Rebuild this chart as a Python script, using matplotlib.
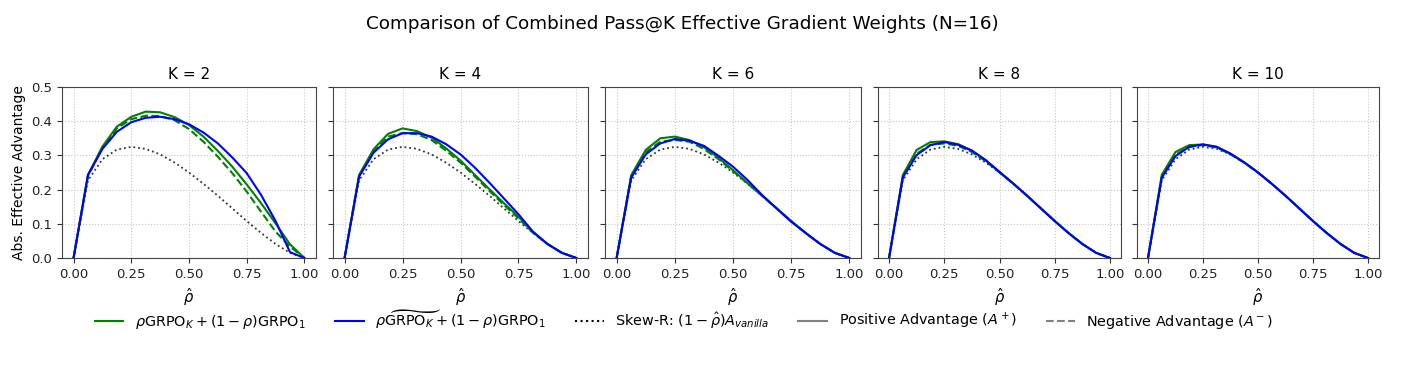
import numpy as np
import matplotlib
matplotlib.use("Agg")
import matplotlib.pyplot as plt
from matplotlib.lines import Line2D

# rho-hat grid (N=16)
rho = [i / 16 for i in range(17)]
k_values = [2, 4, 6, 8, 10]

# Skew-R baseline (same in every panel)
skew_r = [0.0, 0.227, 0.289, 0.317, 0.325, 0.319, 0.303, 0.279, 0.250,
          0.217, 0.182, 0.145, 0.108, 0.073, 0.041, 0.015, 0.0]

# combined GRPO_K, positive advantage (green solid)
green_pos = {
    2: [0.0, 0.243, 0.326, 0.384, 0.413, 0.428, 0.426, 0.412, 0.389,
        0.355, 0.313, 0.267, 0.215, 0.160, 0.101, 0.040, 0.0],
    4: [0.0, 0.243, 0.318, 0.363, 0.379, 0.371, 0.352, 0.321, 0.285,
        0.243, 0.201, 0.160, 0.121, 0.076, 0.041, 0.015, 0.0],
    6: [0.0, 0.242, 0.316, 0.350, 0.355, 0.345, 0.324, 0.293, 0.257,
        0.219, 0.182, 0.145, 0.108, 0.073, 0.041, 0.015, 0.0],
    8: [0.0, 0.243, 0.316, 0.339, 0.341, 0.333, 0.314, 0.286, 0.251,
        0.217, 0.182, 0.145, 0.108, 0.073, 0.041, 0.015, 0.0],
    10: [0.0, 0.243, 0.310, 0.330, 0.332, 0.325, 0.305, 0.280, 0.250,
         0.217, 0.182, 0.145, 0.108, 0.073, 0.041, 0.015, 0.0],
}

# combined GRPO_K, negative advantage (green dashed)
green_neg = {
    2: [0.0, 0.240, 0.321, 0.379, 0.406, 0.416, 0.415, 0.403, 0.377,
        0.340, 0.296, 0.248, 0.194, 0.135, 0.077, 0.033, 0.0],
    4: [0.0, 0.240, 0.311, 0.355, 0.365, 0.362, 0.345, 0.314, 0.279,
        0.238, 0.196, 0.155, 0.116, 0.074, 0.041, 0.015, 0.0],
    6: [0.0, 0.238, 0.309, 0.340, 0.345, 0.340, 0.319, 0.289, 0.254,
        0.218, 0.182, 0.145, 0.108, 0.073, 0.041, 0.015, 0.0],
    8: [0.0, 0.236, 0.305, 0.331, 0.335, 0.328, 0.310, 0.283, 0.250,
        0.217, 0.182, 0.145, 0.108, 0.073, 0.041, 0.015, 0.0],
    10: [0.0, 0.236, 0.302, 0.325, 0.330, 0.323, 0.303, 0.279, 0.250,
         0.217, 0.182, 0.145, 0.108, 0.073, 0.041, 0.015, 0.0],
}

# combined tilde GRPO_K (blue, pos and neg coincide)
blue_pos = {
    2: [0.0, 0.243, 0.319, 0.369, 0.397, 0.410, 0.413, 0.406, 0.391,
        0.367, 0.335, 0.294, 0.248, 0.184, 0.108, 0.017, 0.0],
    4: [0.0, 0.238, 0.308, 0.347, 0.365, 0.365, 0.355, 0.333, 0.303,
        0.264, 0.220, 0.174, 0.128, 0.077, 0.041, 0.015, 0.0],
    6: [0.0, 0.235, 0.303, 0.335, 0.348, 0.343, 0.328, 0.299, 0.267,
        0.228, 0.184, 0.145, 0.106, 0.073, 0.041, 0.015, 0.0],
    8: [0.0, 0.236, 0.301, 0.330, 0.339, 0.331, 0.314, 0.286, 0.252,
        0.218, 0.182, 0.145, 0.108, 0.073, 0.041, 0.015, 0.0],
    10: [0.0, 0.235, 0.298, 0.325, 0.332, 0.325, 0.305, 0.279, 0.250,
         0.217, 0.182, 0.145, 0.108, 0.073, 0.041, 0.015, 0.0],
}

W, H = 1422, 369
fig, axes = plt.subplots(1, 5, figsize=(W / 100, H / 100), dpi=100, sharey=True)

# panel edges in pixels (left, right), top/bottom shared
panel_px = [(62, 316), (333, 588), (605, 861), (878, 1121), (1137, 1379)]
top_px, bottom_px = 87, 258

for ax, (l, r) in zip(axes, panel_px):
    ax.set_position([l / W, 1 - bottom_px / H, (r - l) / W, (bottom_px - top_px) / H])

for ax, k in zip(axes, k_values):
    ax.plot(rho, skew_r, color='black', linestyle=':', linewidth=1.3, alpha=0.8)
    ax.plot(rho, green_neg[k], color='green', linestyle='--', linewidth=1.5)
    ax.plot(rho, green_pos[k], color='green', linestyle='-', linewidth=1.5)
    ax.plot(rho, blue_pos[k], color='blue', linestyle='-', linewidth=1.5)
    ax.set_title(f"K = {k}", fontsize=11)
    ax.set_xlabel(r'$\hat{\rho}$', fontsize=10.5)
    ax.set_ylim(0, 0.5)
    ax.set_xticks([0, 0.25, 0.5, 0.75, 1.0])
    ax.set_xticklabels(["0.00", "0.25", "0.50", "0.75", "1.00"])
    ax.tick_params(labelsize=9.5, colors='#333333', labelcolor='#222222')
    ax.grid(True, linestyle=':', color='#c8c8c8', linewidth=0.8)
    for s in ax.spines.values():
        s.set_color('#444444')

axes[0].set_ylabel("Abs. Effective Advantage", fontsize=10)
axes[0].set_yticks([0, 0.1, 0.2, 0.3, 0.4, 0.5])

fig.suptitle("Comparison of Combined Pass@K Effective Gradient Weights (N=16)",
             fontsize=13.2, x=0.48, y=0.96)

handles = [
    Line2D([], [], color='green', linewidth=1.5),
    Line2D([], [], color='blue', linewidth=1.5),
    Line2D([], [], color='black', linestyle=':', linewidth=1.5),
    Line2D([], [], color='gray', linewidth=1.5),
    Line2D([], [], color='gray', linestyle='--', linewidth=1.5),
]
labels = [
    r'$\rho\mathrm{GRPO}_K + (1-\rho)\mathrm{GRPO}_1$',
    r'$\rho\widetilde{\mathrm{GRPO}_K} + (1-\rho)\mathrm{GRPO}_1$',
    r'Skew-R: $(1-\hat{\rho})A_{vanilla}$',
    r'Positive Advantage ($A^+$)',
    r'Negative Advantage ($A^-$)',
]
fig.legend(handles, labels, loc='center', bbox_to_anchor=(0.481, 0.133),
           ncol=5, frameon=False, fontsize=10.4, columnspacing=2.0)

fig.savefig("out.png", dpi=100)
